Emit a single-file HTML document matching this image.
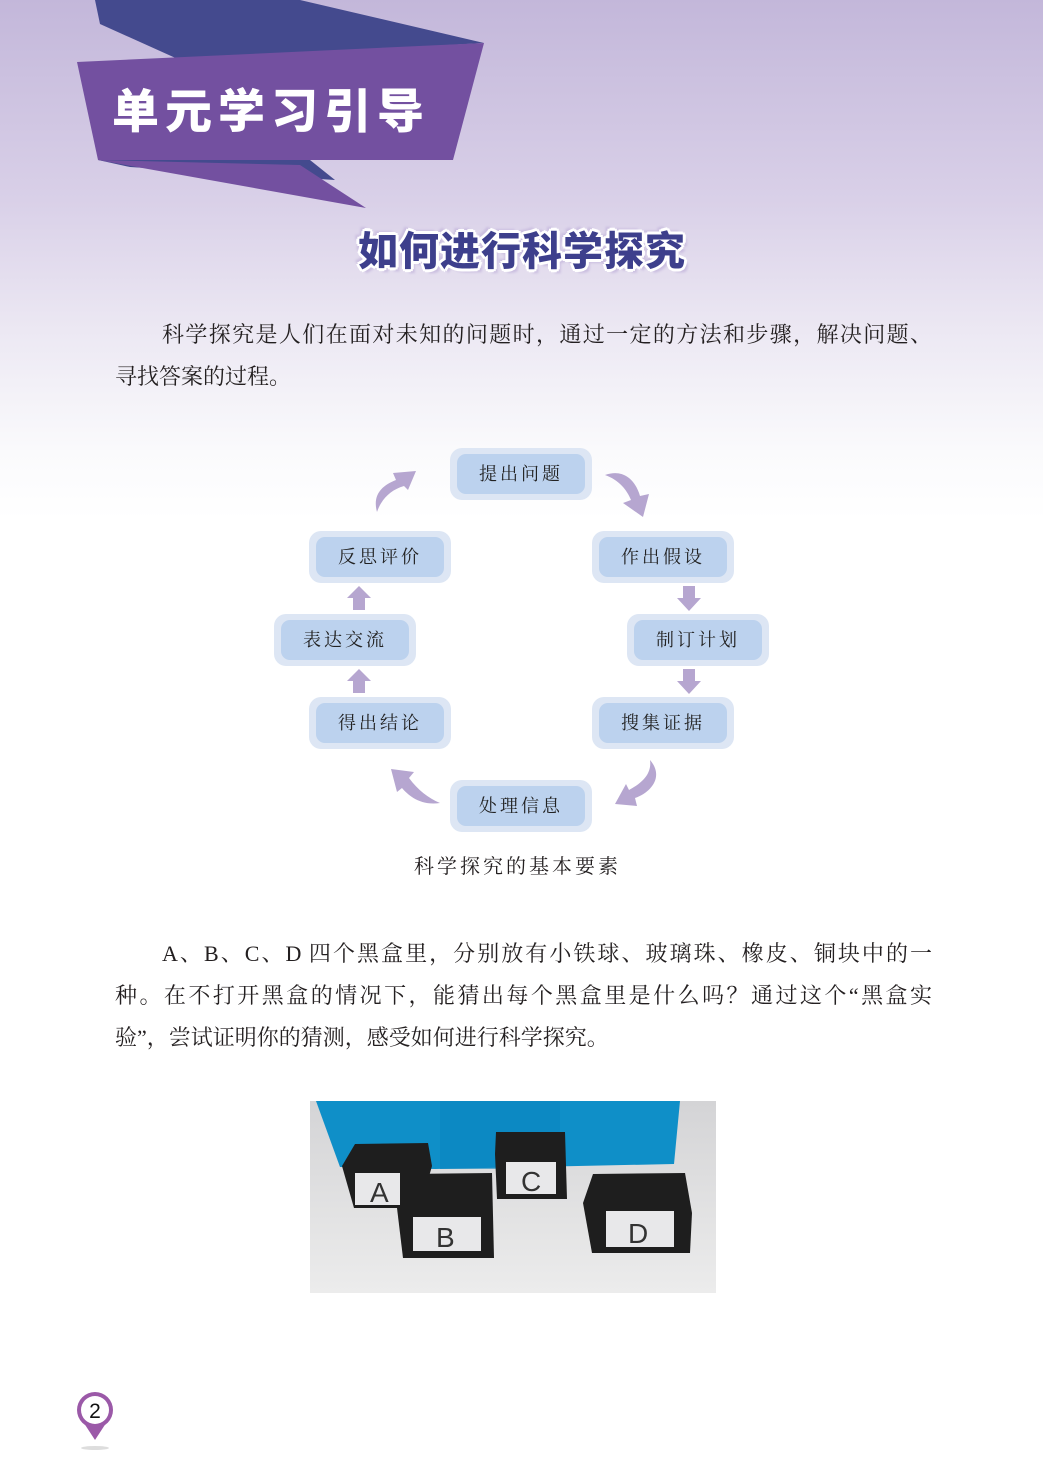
<!DOCTYPE html>
<html><head><meta charset="utf-8"><style>
*{margin:0;padding:0;box-sizing:border-box}
body{width:1043px;height:1474px;position:relative;overflow:hidden;background:linear-gradient(#c3b7da 0px,#d9d0e8 200px,#ece8f3 330px,#fafafc 450px,#fff 520px,#fff 100%);font-family:"Liberation Serif","Noto Serif CJK SC",serif;color:#231f20}
.abs{position:absolute}
.ln{position:absolute;font-size:22px;line-height:30px;white-space:nowrap}
.j{text-align:justify;text-align-last:justify}
.box{position:absolute;width:142px;height:52px;border-radius:12px;background:#dde6f4}
.box div{position:absolute;left:7px;top:6px;right:7px;bottom:6px;border-radius:9px;background:#bcd2ee;font-size:18px;line-height:40px;text-align:center;letter-spacing:3px;color:#222}
</style></head><body>
<svg class="abs" style="left:0;top:0" width="520" height="220">
<polygon points="95,0 300,0 484,43 180,60 100,24" fill="#444a8e"/>
<polygon points="98,160 310,160 335,180 130,167" fill="#444a8e"/>
<polygon points="98,160 300,165 366,208" fill="#7350a0"/>
<polygon points="77,62 484,43 453,160 98,160" fill="#7350a0"/>
</svg>
<div class="abs" style="left:112px;top:80px;font-family:'Noto Sans CJK SC',sans-serif;font-weight:900;font-size:47px;letter-spacing:6px;color:#fff;line-height:56px">单元学习引导</div>
<div class="abs" style="left:358px;top:222px;font-family:'Noto Sans CJK SC',sans-serif;font-weight:900;font-size:40px;letter-spacing:1px;color:#3d3f8c;line-height:52px;text-shadow:0 0 2px #fff,2px 2px 0 #fff,-2px -2px 0 #fff,2px -2px 0 #fff,-2px 2px 0 #fff,0 3px 0 #fff,0 -3px 0 #fff,3px 0 0 #fff,-3px 0 0 #fff,4px 4px 2px #cbbfe0,-4px -4px 2px #cbbfe0">如何进行科学探究</div>

<div class="ln j" style="left:162px;top:320px;width:770px">科学探究是人们在面对未知的问题时，通过一定的方法和步骤，解决问题、</div>
<div class="ln" style="left:115px;top:362px">寻找答案的过程。</div>

<div class="box" style="left:450px;top:448px"><div>提出问题</div></div>
<div class="box" style="left:592px;top:531px"><div>作出假设</div></div>
<div class="box" style="left:627px;top:614px"><div>制订计划</div></div>
<div class="box" style="left:592px;top:697px"><div>搜集证据</div></div>
<div class="box" style="left:450px;top:780px"><div>处理信息</div></div>
<div class="box" style="left:309px;top:697px"><div>得出结论</div></div>
<div class="box" style="left:274px;top:614px"><div>表达交流</div></div>
<div class="box" style="left:309px;top:531px"><div>反思评价</div></div>

<svg class="abs" style="left:0;top:0" width="1043" height="900">
<g fill="#b6a6d0">
<polygon points="683,586 695,586 695,598 701,598 689,611 677,598 683,598"/>
<polygon points="683,669 695,669 695,681 701,681 689,694 677,681 683,681"/>
<polygon points="353,610 365,610 365,598 371,598 359,586 347,598 353,598"/>
<polygon points="353,693 365,693 365,681 371,681 359,669 347,681 353,681"/>
<path d="M605,475 C625,468 636,482 640,496 L649,494 L643,517 L623,503 L631,500 C627,490 619,480 605,475Z"/>
<path d="M650,760 C664,776 652,792 635,798 L637,806 L615,804 L626,784 L629,790 C642,783 652,774 650,760Z"/>
<path d="M440,803 C420,806 408,795 402,788 L397,792 L391,769 L414,772 L409,778 C418,790 428,798 440,803Z"/>
<path d="M377,512 C372,494 383,485 396,480 L393,473 L416,471 L408,490 L404,486 C390,490 381,500 377,512Z"/>
</g>
</svg>
<div class="abs" style="left:414px;top:852px;font-size:20px;letter-spacing:3px;line-height:30px">科学探究的基本要素</div>

<div class="ln j" style="left:162px;top:939px;width:770px">A、B、C、D 四个黑盒里，分别放有小铁球、玻璃珠、橡皮、铜块中的一</div>
<div class="ln j" style="left:115px;top:981px;width:817px">种。在不打开黑盒的情况下，能猜出每个黑盒里是什么吗？通过这个“黑盒实</div>
<div class="ln" style="left:115px;top:1023px">验”，尝试证明你的猜测，感受如何进行科学探究。</div>

<svg class="abs" style="left:310px;top:1101px" width="406" height="192">
<defs><linearGradient id="fl" x1="0" y1="0" x2="0" y2="1"><stop offset="0" stop-color="#d4d4d6"/><stop offset="1" stop-color="#ececec"/></linearGradient></defs>
<rect width="406" height="192" fill="url(#fl)"/>
<polygon points="6,0 370,0 364,63 125,68 30,66" fill="#0f8fc8"/>
<rect x="130" y="0" width="120" height="68" fill="#0a86c0" opacity=".6"/>
<g fill="#1e1e1e">
<polygon points="32,65 45,43 118,42 122,65 110,107 44,107"/>
<polygon points="87,107 95,73 182,72 184,157 93,157"/>
<polygon points="185,53 186,31 255,31 257,98 187,98"/>
<polygon points="273,102 283,73 375,72 382,112 380,152 282,152"/>
</g>
<g fill="#e8e8ea">
<rect x="45" y="72" width="45" height="32"/>
<rect x="103" y="116" width="68" height="34"/>
<rect x="196" y="61" width="50" height="32"/>
<rect x="296" y="110" width="68" height="36"/>
</g>
<g font-family="Liberation Sans,sans-serif" font-size="28" fill="#333">
<text x="60" y="101">A</text><text x="126" y="146">B</text><text x="211" y="90">C</text><text x="318" y="142">D</text>
</g>
</svg>

<svg class="abs" style="left:74px;top:1388px" width="44" height="66">
<ellipse cx="21" cy="60" rx="14" ry="2" fill="#ddd"/>
<path d="M4,26 L21,52 L38,26Z" fill="#9b59a8"/>
<circle cx="21" cy="22" r="18" fill="#9b59a8"/>
<circle cx="21" cy="22" r="14" fill="#fff"/>
<text x="21" y="30" text-anchor="middle" font-family="Liberation Sans,sans-serif" font-size="21" fill="#111">2</text>
</svg>
</body></html>
